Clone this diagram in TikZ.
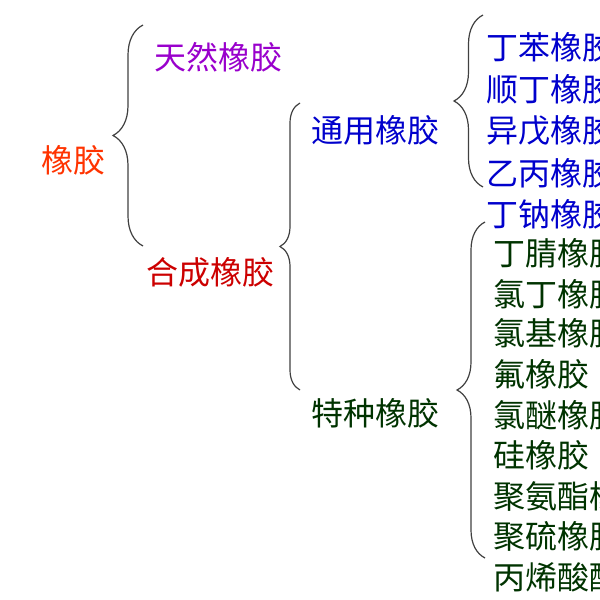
\documentclass[tikz,border=0pt]{standalone}
\usepackage{fontspec}
\newfontfamily\cjk{Noto Sans CJK SC}
\usetikzlibrary{decorations.pathreplacing}

\definecolor{rubred}{HTML}{FF3300}
\definecolor{natpurple}{HTML}{9900CC}
\definecolor{synred}{HTML}{CC0000}
\definecolor{genblue}{HTML}{0000CC}
\definecolor{spegreen}{HTML}{003300}

\tikzset{
	term/.style={anchor=west, inner sep=0pt, font=\cjk\fontsize{32}{32}\selectfont},
	curly/.style={decorate, decoration={brace, amplitude=#1}, draw=black!75, line width=1.2pt}
}

\begin{document}
\begin{tikzpicture}[x=1pt, y=-1pt]
	
	\useasboundingbox (0, 0) rectangle (600, 600);
	\clip (0, 0) rectangle (600, 600);
	
	\node[term, text=rubred]    (r)   at (41, 160)  {橡胶};
	\node[term, text=natpurple] (nat) at (154, 57)  {天然橡胶};
	\node[term, text=synred]    (syn) at (146, 272) {合成橡胶};
	\node[term, text=genblue]   (gen) at (311, 130) {通用橡胶};
	\node[term, text=spegreen]  (spe) at (311, 413) {特种橡胶};
	
	\node[term, text=genblue] (g1) at (486, 47)  {丁苯橡胶};
	\node[term, text=genblue] (g2) at (486, 89)  {顺丁橡胶};
	\node[term, text=genblue] (g3) at (486, 131) {异戊橡胶};
	\node[term, text=genblue] (g4) at (486, 173) {乙丙橡胶};
	\node[term, text=genblue] (g5) at (486, 214) {丁钠橡胶};
	
	\node[term, text=spegreen] (s1) at (493, 253) {丁腈橡胶};
	\node[term, text=spegreen] (s2) at (493, 294) {氯丁橡胶};
	\node[term, text=spegreen] (s3) at (493, 333) {氯基橡胶};
	\node[term, text=spegreen] (s4) at (493, 374) {氟橡胶};
	\node[term, text=spegreen] (s5) at (493, 415) {氯醚橡胶};
	\node[term, text=spegreen] (s6) at (493, 455) {硅橡胶};
	\node[term, text=spegreen] (s7) at (493, 496) {聚氨酯橡胶};
	\node[term, text=spegreen] (s8) at (493, 536) {聚硫橡胶};
	\node[term, text=spegreen] (s9) at (493, 577) {丙烯酸酯橡胶};
	
	\coordinate (r-bot) at (143, 246);
	\coordinate (r-top) at (143, 25);
	\coordinate (syn-bot) at (300, 390);
	\coordinate (syn-top) at (300, 103);
	\coordinate (gen-bot) at (483, 187);
	\coordinate (gen-top) at (483, 15);
	\coordinate (spe-bot) at (485, 558);
	\coordinate (spe-top) at (485, 222);
	
	\path[curly=30pt] (r-bot) -- (r-top);
	\path[curly=20pt] (syn-bot) -- (syn-top);
	\path[curly=29pt] (gen-bot) -- (gen-top);
	\path[curly=28pt] (spe-bot) -- (spe-top);

\end{tikzpicture}
\end{document}
